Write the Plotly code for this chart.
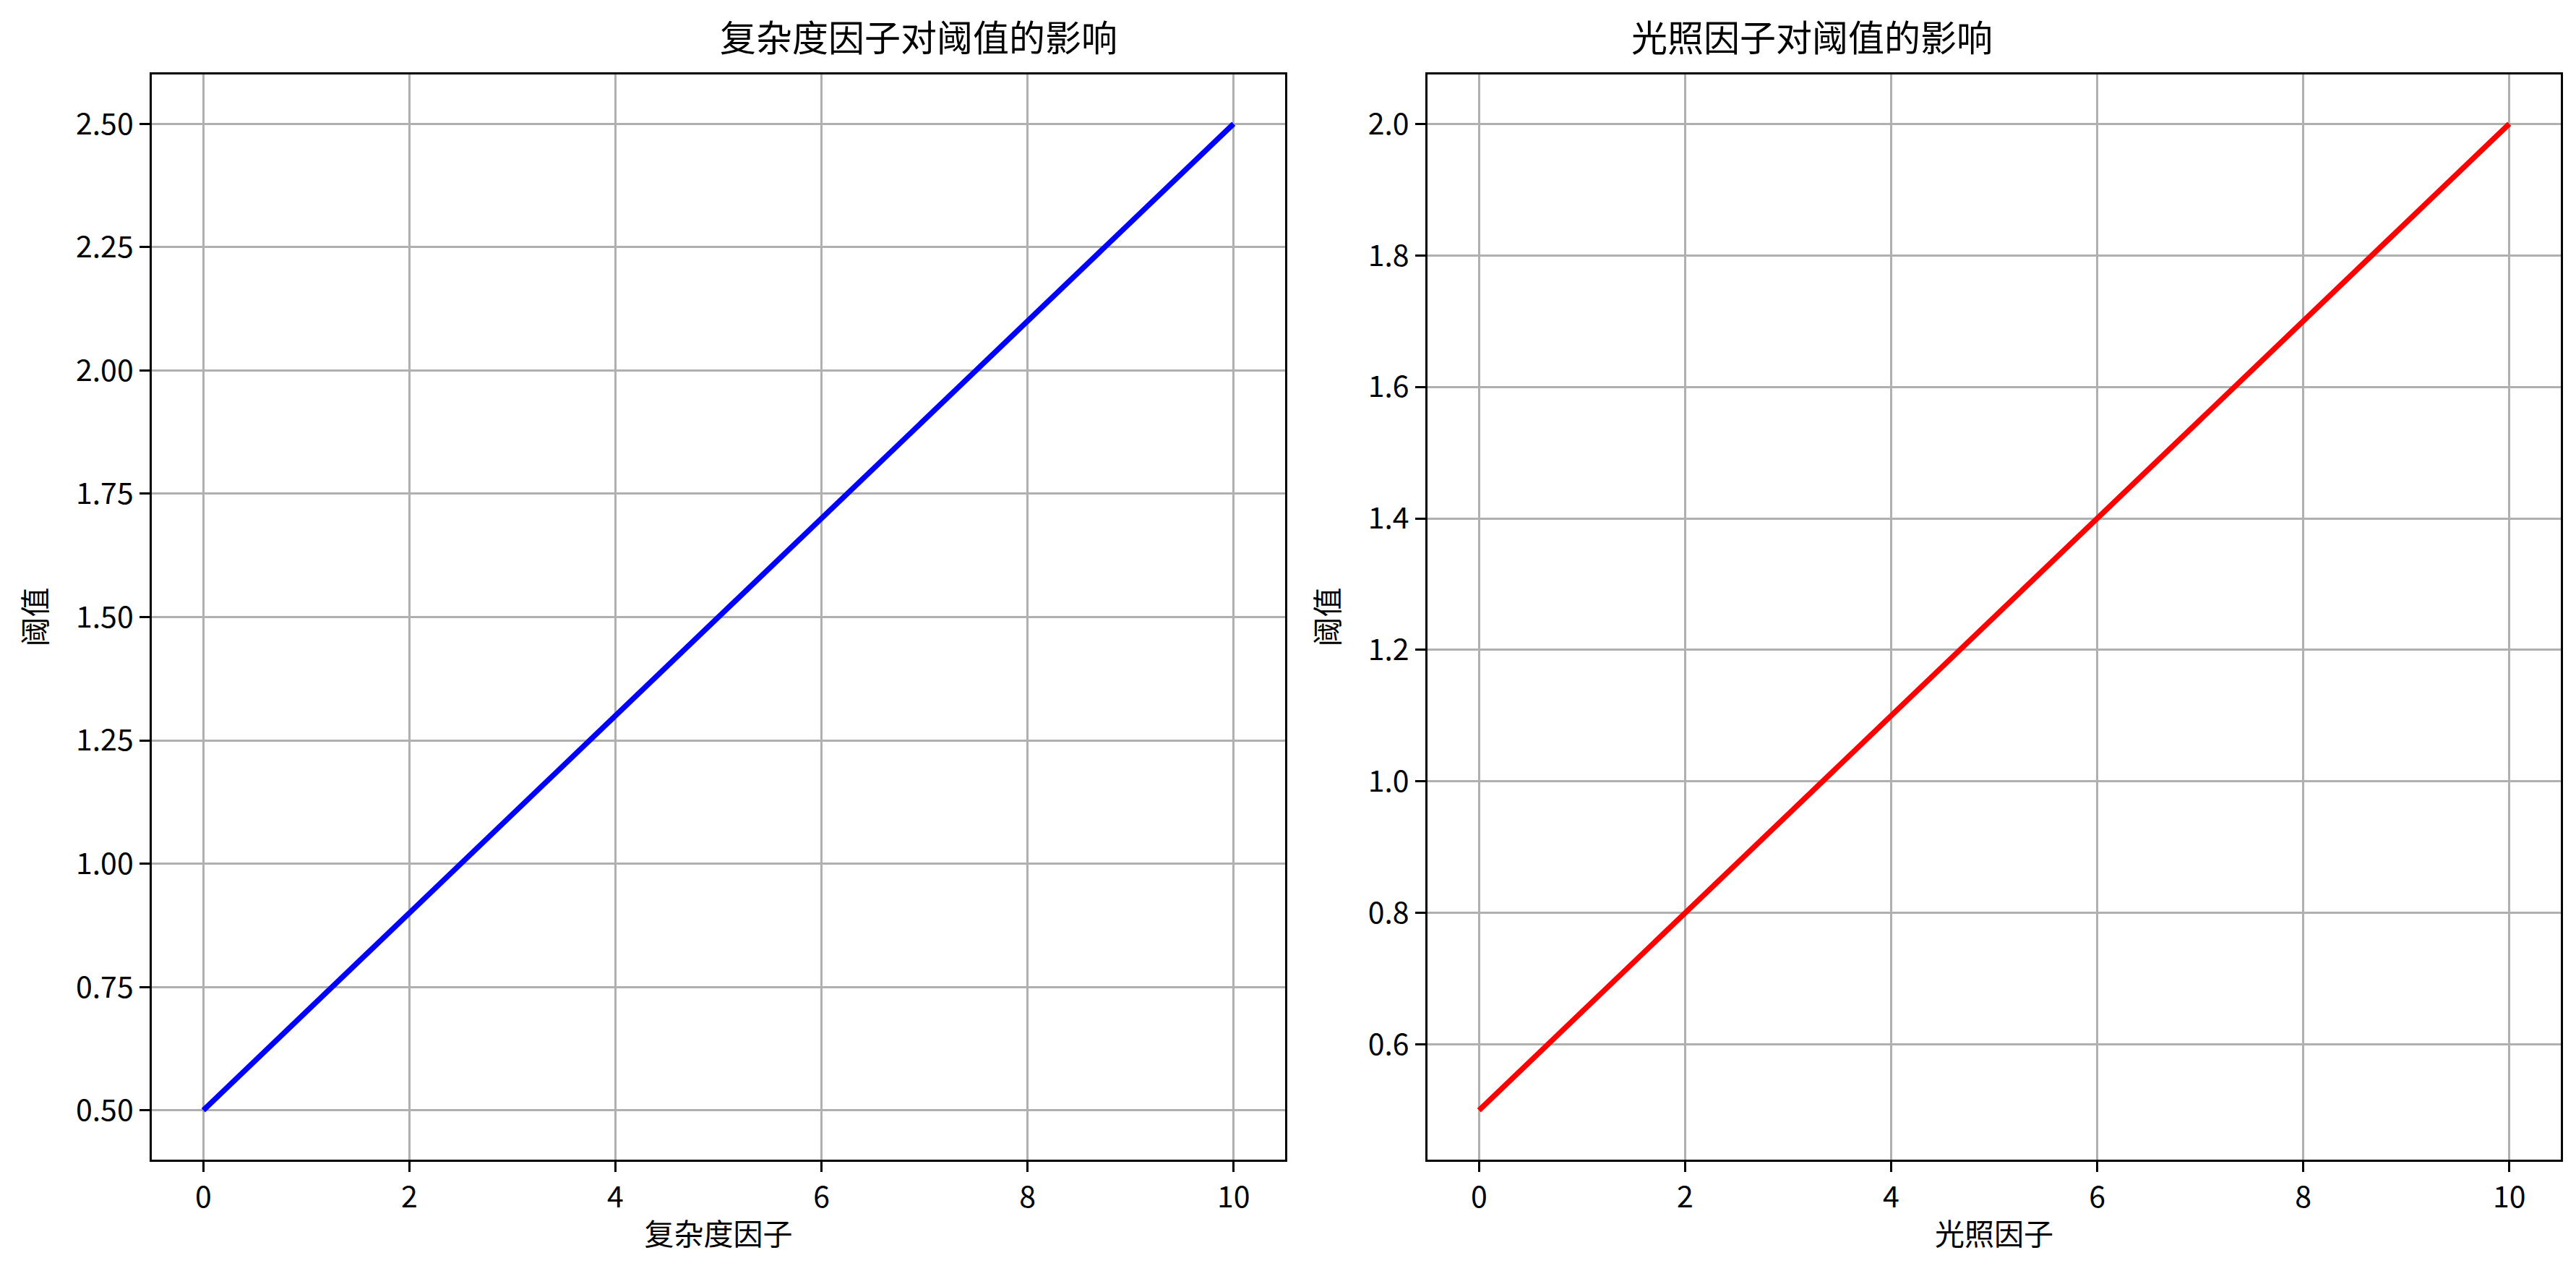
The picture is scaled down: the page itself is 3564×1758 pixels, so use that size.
import plotly.graph_objects as go

complexity_x = [0, 1, 2, 3, 4, 5, 6, 7, 8, 9, 10]
complexity_threshold = [0.5, 0.7, 0.9, 1.1, 1.3, 1.5, 1.7, 1.9, 2.1, 2.3, 2.5]
light_x = [0, 1, 2, 3, 4, 5, 6, 7, 8, 9, 10]
light_threshold = [0.5, 0.65, 0.8, 0.95, 1.1, 1.25, 1.4, 1.55, 1.7, 1.85, 2.0]

titles = ["复杂度因子对阈值的影响", "光照因子对阈值的影响"]
x_labels = ["复杂度因子", "光照因子"]
y_label = "阈值"

FONT = "Noto Sans CJK SC, Microsoft YaHei, sans-serif"
W, H = 3564, 1758
ML, MR, MT, MB = 202, 29, 95, 162

fig = go.Figure()
fig.add_trace(go.Scatter(x=complexity_x, y=complexity_threshold, mode="lines",
                         line=dict(color="#0000ff", width=7.5), xaxis="x", yaxis="y",
                         showlegend=False))
fig.add_trace(go.Scatter(x=light_x, y=light_threshold, mode="lines",
                         line=dict(color="#ff0000", width=7.5), xaxis="x2", yaxis="y2",
                         showlegend=False))

axis_common = dict(showline=True, linecolor="black", linewidth=3.3, mirror=True,
                   showgrid=True, gridcolor="#b0b0b0", gridwidth=3.3,
                   ticks="outside", ticklen=14, tickwidth=3.3, tickcolor="black",
                   zeroline=False, tickfont=dict(size=41, color="black", family=FONT),
                   title_font=dict(size=41, color="black", family=FONT))

pw = W - ML - MR
d1 = [0, (1770 - ML) / pw]
d2 = [(1967 - ML) / pw, 1]

fig.update_layout(
    width=W, height=H,
    margin=dict(l=ML, r=MR, t=MT, b=MB),
    plot_bgcolor="white", paper_bgcolor="white",
    font=dict(family=FONT, color="black"),
    xaxis=dict(domain=d1, range=[-0.5, 10.5], dtick=2, anchor="y",
               title=dict(text=x_labels[0], standoff=12), **axis_common),
    yaxis=dict(domain=[0, 1], range=[0.4, 2.6], dtick=0.25, tickformat=".2f", anchor="x",
               title=dict(text=y_label, standoff=28), **axis_common),
    xaxis2=dict(domain=d2, range=[-0.5, 10.5], dtick=2, anchor="y2",
                title=dict(text=x_labels[1], standoff=12), **axis_common),
    yaxis2=dict(domain=[0, 1], range=[0.425, 2.075], dtick=0.2, tickformat=".1f", anchor="x2",
                title=dict(text=y_label, standoff=28), **axis_common),
    annotations=[
        dict(text=titles[0], x=(d1[0] + d1[1]) / 2, xref="paper", y=1, yref="paper",
             yshift=16, yanchor="bottom", showarrow=False,
             font=dict(size=50, color="black", family=FONT)),
        dict(text=titles[1], x=(d2[0] + d2[1]) / 2, xref="paper", y=1, yref="paper",
             yshift=16, yanchor="bottom", showarrow=False,
             font=dict(size=50, color="black", family=FONT)),
    ],
)

fig.write_html("out.html")
